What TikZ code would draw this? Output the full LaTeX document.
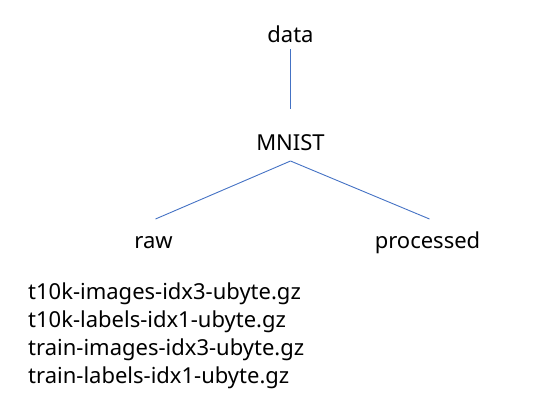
\documentclass[tikz,border=0pt]{standalone}
\usepackage{fontspec}
\setmainfont{Noto Sans}
\usepackage{xcolor}
\usepackage{tikz}
\definecolor{linkblue}{HTML}{4472C4}

\begin{document}
\begin{tikzpicture}[x=1pt,y=1pt,
  every node/.style={font=\fontsize{22}{28}\selectfont,text height=15pt,text depth=5pt,inner sep=0pt},
  edge from parent/.style={draw=linkblue,line width=0.9pt},
  level 1/.style={level distance=108pt,
    edge from parent path={([yshift=-7pt]\tikzparentnode.base) -- ([yshift=41pt]\tikzchildnode.base)}},
  level 2/.style={level distance=98pt,sibling distance=274pt,
    edge from parent path={([yshift=-11pt]\tikzparentnode.base) -- ([xshift=2pt,yshift=29pt]\tikzchildnode.base)}}]
\useasboundingbox (0,0) rectangle (545,-405);
\node (data) at (290.5,-37) {data}
  child {node (mnist) {MNIST}
    child {node (raw) {raw}}
    child {node (proc) {processed}}
  };
\node [anchor=north west,align=left,text height=,text depth=] (files) at (28,-283)
  {t10k-images-idx3-ubyte.gz\\
   t10k-labels-idx1-ubyte.gz\\
   train-images-idx3-ubyte.gz\\
   train-labels-idx1-ubyte.gz};
\end{tikzpicture}
\end{document}
